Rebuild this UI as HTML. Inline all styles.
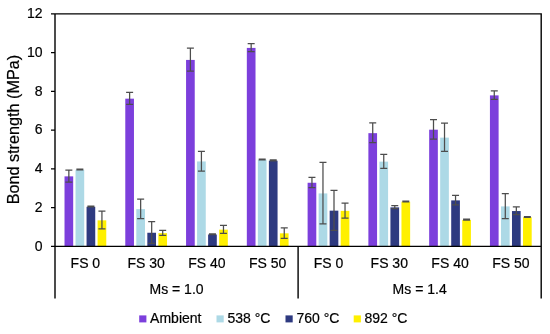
<!DOCTYPE html>
<html><head><meta charset="utf-8"><style>
html,body{margin:0;padding:0;background:#fff;}
svg{display:block;}
text{font-family:"Liberation Sans",Arial,sans-serif;fill:#000;stroke:#000;stroke-width:0.2px;}
</style></head><body>
<svg width="550" height="334" viewBox="0 0 550 334">
<rect width="550" height="334" fill="#fff"/>
<g><rect x="64.51" y="176.37" width="8.68" height="70.03" fill="#7C3FDC"/><rect x="75.53" y="169.78" width="8.68" height="76.62" fill="#ADD9E6"/><rect x="86.56" y="206.79" width="8.68" height="39.61" fill="#2E3A80"/><rect x="97.59" y="220.35" width="8.68" height="26.05" fill="#FFF000"/><rect x="125.28" y="98.67" width="8.68" height="147.72" fill="#7C3FDC"/><rect x="136.31" y="209.11" width="8.68" height="37.29" fill="#ADD9E6"/><rect x="147.33" y="232.75" width="8.68" height="13.65" fill="#2E3A80"/><rect x="158.36" y="233.14" width="8.68" height="13.26" fill="#FFF000"/><rect x="186.06" y="59.92" width="8.68" height="186.47" fill="#7C3FDC"/><rect x="197.08" y="161.45" width="8.68" height="84.95" fill="#ADD9E6"/><rect x="208.11" y="234.49" width="8.68" height="11.91" fill="#2E3A80"/><rect x="219.14" y="229.65" width="8.68" height="16.75" fill="#FFF000"/><rect x="246.83" y="47.91" width="8.68" height="198.49" fill="#7C3FDC"/><rect x="257.86" y="159.71" width="8.68" height="86.69" fill="#ADD9E6"/><rect x="268.88" y="160.68" width="8.68" height="85.73" fill="#2E3A80"/><rect x="279.91" y="233.33" width="8.68" height="13.07" fill="#FFF000"/><rect x="307.61" y="182.76" width="8.68" height="63.64" fill="#7C3FDC"/><rect x="318.63" y="193.42" width="8.68" height="52.98" fill="#ADD9E6"/><rect x="329.66" y="210.66" width="8.68" height="35.74" fill="#2E3A80"/><rect x="340.69" y="210.86" width="8.68" height="35.54" fill="#FFF000"/><rect x="368.38" y="133.16" width="8.68" height="113.24" fill="#7C3FDC"/><rect x="379.41" y="161.64" width="8.68" height="84.76" fill="#ADD9E6"/><rect x="390.43" y="207.37" width="8.68" height="39.03" fill="#2E3A80"/><rect x="401.46" y="201.75" width="8.68" height="44.65" fill="#FFF000"/><rect x="429.16" y="129.68" width="8.68" height="116.73" fill="#7C3FDC"/><rect x="440.18" y="137.62" width="8.68" height="108.78" fill="#ADD9E6"/><rect x="451.21" y="200.39" width="8.68" height="46.01" fill="#2E3A80"/><rect x="462.24" y="219.96" width="8.68" height="26.44" fill="#FFF000"/><rect x="489.93" y="95.38" width="8.68" height="151.02" fill="#7C3FDC"/><rect x="500.96" y="206.40" width="8.68" height="40.00" fill="#ADD9E6"/><rect x="511.98" y="211.05" width="8.68" height="35.35" fill="#2E3A80"/><rect x="523.01" y="217.25" width="8.68" height="29.15" fill="#FFF000"/></g>
<g stroke="#4d4d4d" stroke-width="1.25" fill="none"><path d="M68.85 170.06V182.07M65.35 170.06H72.35M65.35 182.07H72.35"/><path d="M79.87 169.09V169.87M76.37 169.09H83.37M76.37 169.87H83.37"/><path d="M90.90 206.10V206.88M87.40 206.10H94.40M87.40 206.88H94.40"/><path d="M101.93 211.14V228.96M98.43 211.14H105.43M98.43 228.96H105.43"/><path d="M129.62 92.37V104.38M126.12 92.37H133.12M126.12 104.38H133.12"/><path d="M140.65 199.12V218.50M137.15 199.12H144.15M137.15 218.50H144.15"/><path d="M151.68 221.60V243.30M148.18 221.60H155.18M148.18 243.30H155.18"/><path d="M162.70 230.32V235.36M159.20 230.32H166.20M159.20 235.36H166.20"/><path d="M190.40 48.19V71.06M186.90 48.19H193.90M186.90 71.06H193.90"/><path d="M201.42 151.27V171.03M197.92 151.27H204.92M197.92 171.03H204.92"/><path d="M212.45 233.81V234.58M208.95 233.81H215.95M208.95 234.58H215.95"/><path d="M223.48 225.28V233.42M219.98 225.28H226.98M219.98 233.42H226.98"/><path d="M251.17 43.54V51.68M247.67 43.54H254.67M247.67 51.68H254.67"/><path d="M262.20 159.02V159.79M258.70 159.02H265.70M258.70 159.79H265.70"/><path d="M273.23 159.79V160.96M269.73 159.79H276.73M269.73 160.96H276.73"/><path d="M284.25 227.80V238.26M280.75 227.80H287.75M280.75 238.26H287.75"/><path d="M311.95 177.43V187.50M308.45 177.43H315.45M308.45 187.50H315.45"/><path d="M322.97 162.31V223.93M319.47 162.31H326.47M319.47 223.93H326.47"/><path d="M334.00 190.41V230.32M330.50 190.41H337.50M330.50 230.32H337.50"/><path d="M345.03 203.00V218.11M341.53 203.00H348.53M341.53 218.11H348.53"/><path d="M372.72 122.98V142.74M369.22 122.98H376.22M369.22 142.74H376.22"/><path d="M383.75 154.37V168.32M380.25 154.37H387.25M380.25 168.32H387.25"/><path d="M394.78 205.62V208.52M391.28 205.62H398.28M391.28 208.52H398.28"/><path d="M405.80 201.06V201.84M402.30 201.06H409.30M402.30 201.84H409.30"/><path d="M433.50 119.69V139.06M430.00 119.69H437.00M430.00 139.06H437.00"/><path d="M444.52 123.18V151.46M441.02 123.18H448.02M441.02 151.46H448.02"/><path d="M455.55 195.25V204.94M452.05 195.25H459.05M452.05 204.94H459.05"/><path d="M466.58 219.08V220.24M463.08 219.08H470.08M463.08 220.24H470.08"/><path d="M494.27 90.82V99.34M490.77 90.82H497.77M490.77 99.34H497.77"/><path d="M505.30 193.51V218.69M501.80 193.51H508.80M501.80 218.69H508.80"/><path d="M516.33 206.88V214.62M512.83 206.88H519.83M512.83 214.62H519.83"/><path d="M527.35 216.56V217.34M523.85 216.56H530.85M523.85 217.34H530.85"/></g>
<g stroke="#000" stroke-width="1.4" fill="none">
<path d="M55.0 13.9H541.2V298.4M55.0 13.9V298.4M298.10 246.4V298.4M55.0 246.4H541.2M51.0 246.40H55.0M51.0 207.65H55.0M51.0 168.90H55.0M51.0 130.15H55.0M51.0 91.40H55.0M51.0 52.65H55.0M51.0 13.90H55.0"/>
</g>
<g font-size="14"><text x="42.5" y="250.60" text-anchor="end">0</text><text x="42.5" y="211.85" text-anchor="end">2</text><text x="42.5" y="173.10" text-anchor="end">4</text><text x="42.5" y="134.35" text-anchor="end">6</text><text x="42.5" y="95.60" text-anchor="end">8</text><text x="42.5" y="56.85" text-anchor="end">10</text><text x="42.5" y="18.10" text-anchor="end">12</text><text x="85.39" y="268" text-anchor="middle">FS 0</text><text x="146.16" y="268" text-anchor="middle">FS 30</text><text x="206.94" y="268" text-anchor="middle">FS 40</text><text x="267.71" y="268" text-anchor="middle">FS 50</text><text x="328.49" y="268" text-anchor="middle">FS 0</text><text x="389.26" y="268" text-anchor="middle">FS 30</text><text x="450.04" y="268" text-anchor="middle">FS 40</text><text x="510.81" y="268" text-anchor="middle">FS 50</text>
<text x="176.55" y="293.7" text-anchor="middle">Ms = 1.0</text>
<text x="419.65" y="293.7" text-anchor="middle">Ms = 1.4</text>
</g>
<text font-size="16.2" transform="translate(18.8 129.6) rotate(-90)" text-anchor="middle">Bond strength (MPa)</text>
<g font-size="14">
<rect x="139.2" y="315.4" width="7.2" height="7" fill="#7C3FDC"/><text x="150.1" y="323.2">Ambient</text>
<rect x="216.5" y="315.4" width="7.2" height="7" fill="#ADD9E6"/><text x="227.5" y="323.2">538 °C</text>
<rect x="285.5" y="315.4" width="7.2" height="7" fill="#2E3A80"/><text x="296.4" y="323.2">760 °C</text>
<rect x="353.7" y="315.4" width="7.2" height="7" fill="#FFF000"/><text x="364.4" y="323.2">892 °C</text>
</g>
</svg>
</body></html>
